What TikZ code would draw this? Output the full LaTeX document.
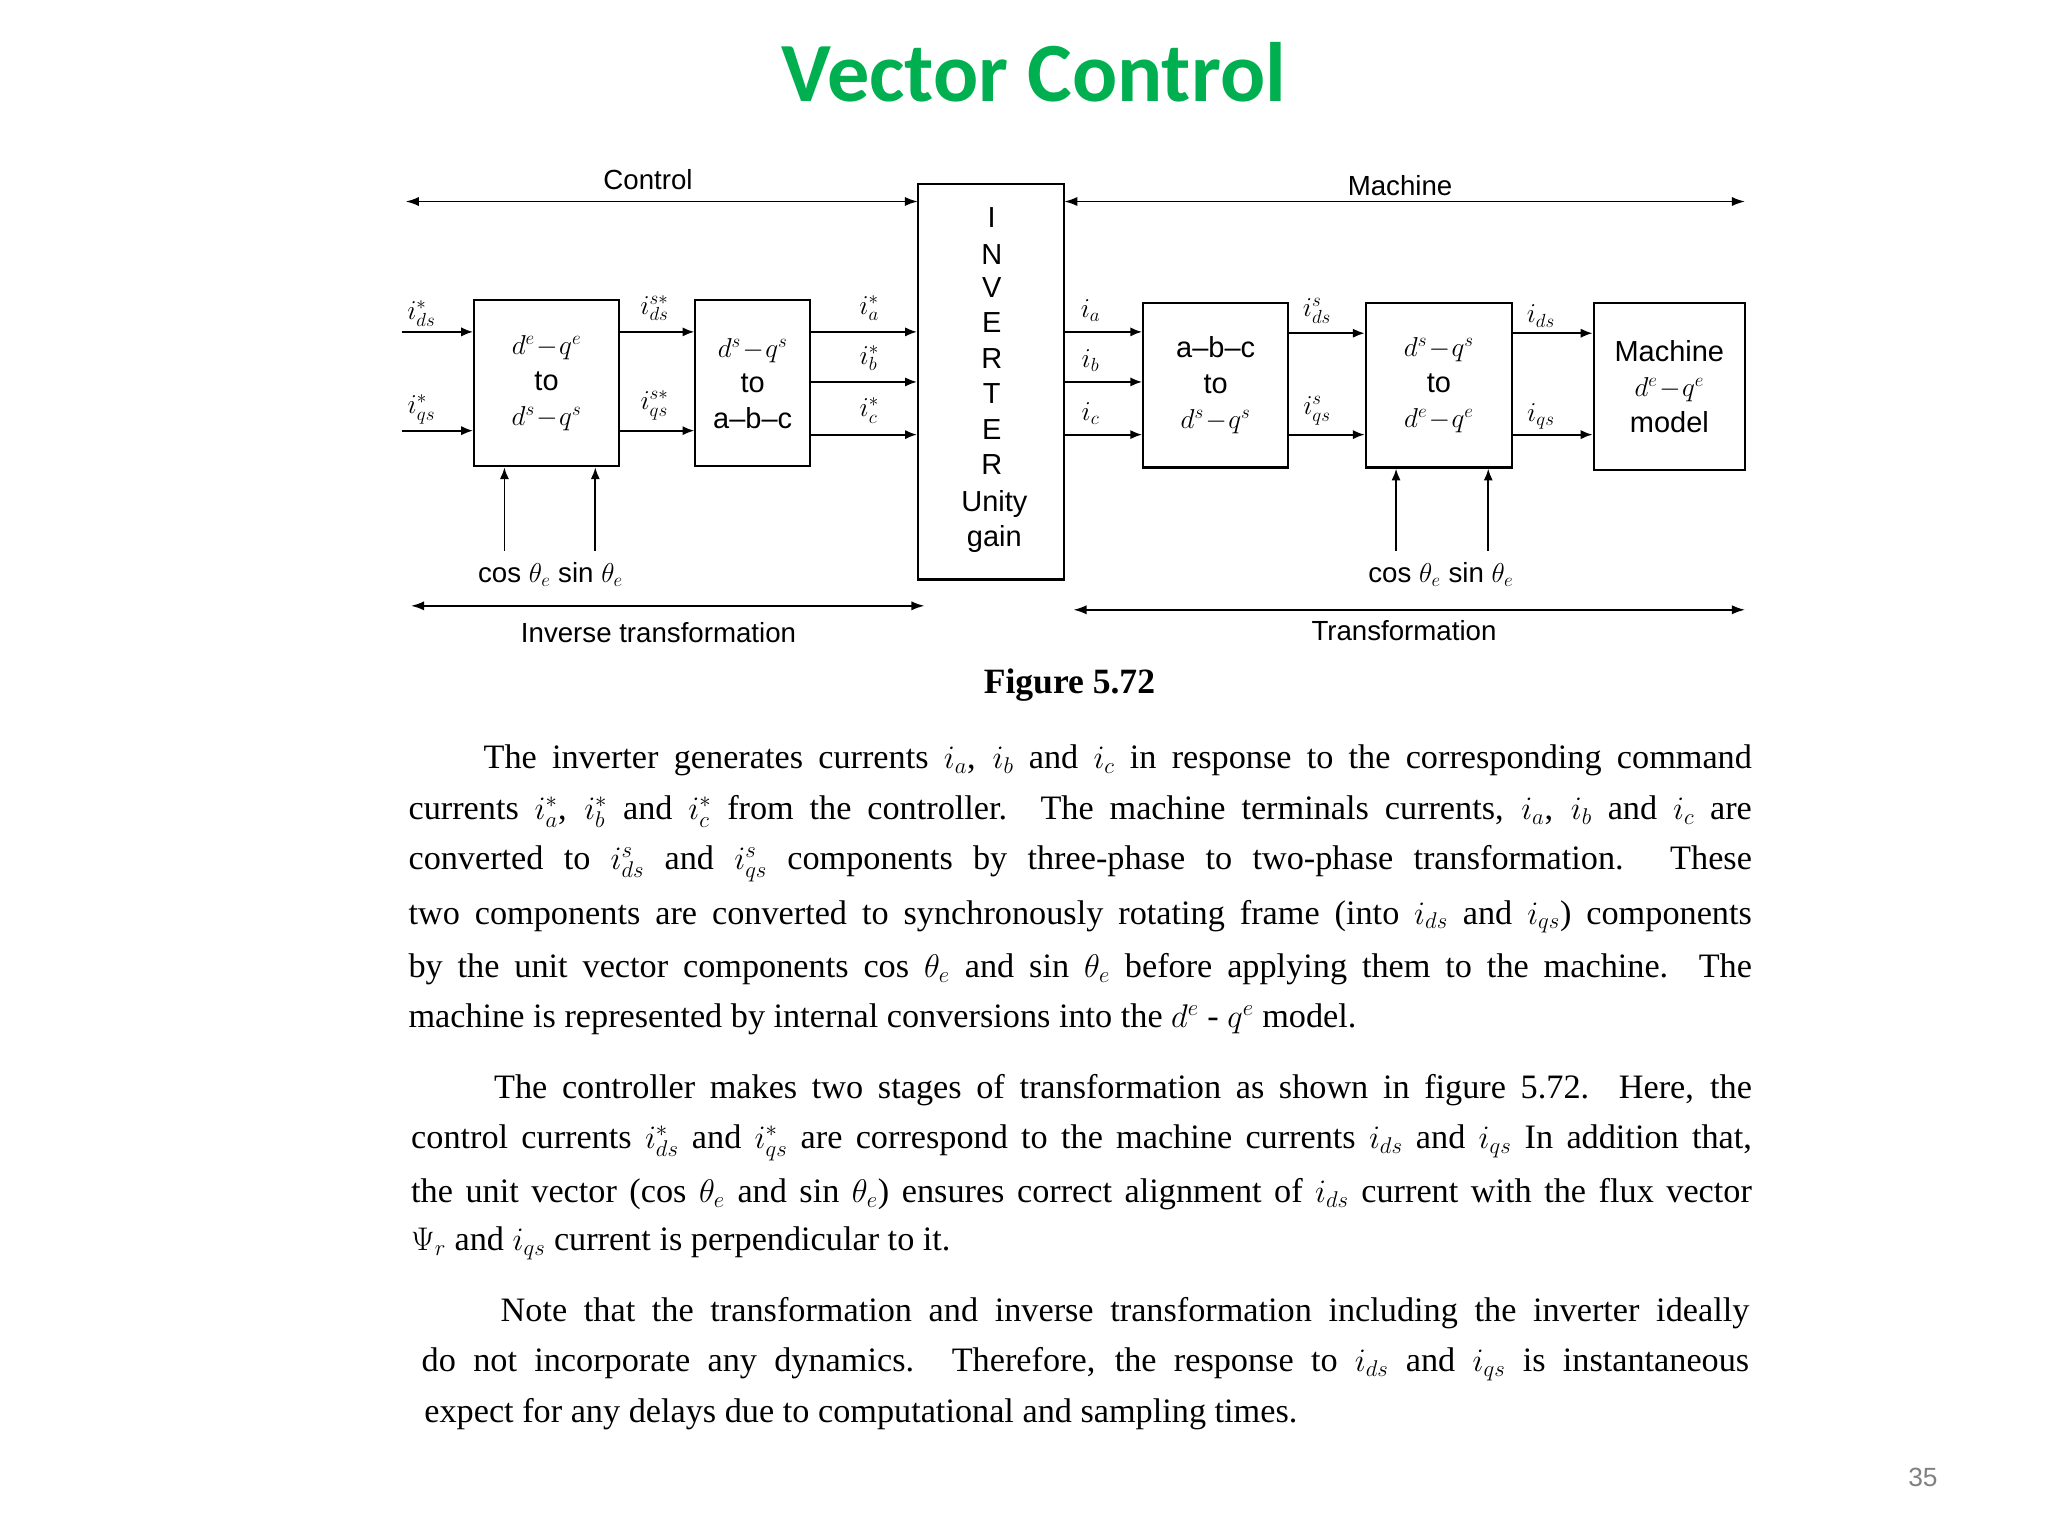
\documentclass[tikz,border=0pt]{standalone}
\usepackage{fontspec}
\setmainfont{Liberation Serif}
\setsansfont{Liberation Sans}
\newfontfamily\titlefont{Carlito}
\usetikzlibrary{arrows.meta}
\definecolor{titlegreen}{RGB}{0,176,80}
\newcommand{\bodyline}[1]{\makebox[1020pt][s]{#1}}
\tikzset{
  blk/.style={draw,line width=1.6pt,inner sep=0pt,font=\sffamily\fontsize{22}{27}\selectfont,align=center},
  sig/.style={-{Latex[length=9pt,width=7pt]},line width=1.4pt},
  span/.style={{Latex[length=10pt,width=7pt]}-{Latex[length=10pt,width=7pt]},line width=1.4pt},
  lab/.style={font=\sffamily\fontsize{21}{24}\selectfont},
  sl/.style={font=\fontsize{21}{24}\selectfont},
  body/.style={anchor=west,inner sep=0pt,font=\fontsize{26}{30}\selectfont}
}
\begin{document}
\begin{tikzpicture}[x=1pt,y=-1pt]
\useasboundingbox (0,0) rectangle (1555,1166.25);
\node[font=\titlefont\bfseries\fontsize{64}{70}\selectfont,text=titlegreen] (title) at (785,55) {Vector Control};

% top spans
\coordinate (c1) at (308,153); \coordinate (c2) at (697,153);
\draw[span] (c1) -- (c2);
\node[lab] (ctl) at (492,136) {Control};
\coordinate (m1) at (808,153); \coordinate (m2) at (1325,153);
\draw[span] (m1) -- (m2);
\node[lab] (mach) at (1063,141) {Machine};

% blocks
\node[blk,minimum width=110pt,minimum height=126pt] (b1) at (415,291) {$d^e\!-\!q^e$\\to\\$d^s\!-\!q^s$};
\node[blk,minimum width=87pt,minimum height=126pt] (b2) at (571.5,291) {$d^s\!-\!q^s$\\to\\a--b--c};
\node[blk,minimum width=111pt,minimum height=300pt] (inv) at (752.5,290) {};
\foreach \l/\yy in {I/165,N/193,V/218,E/245,R/272,T/299,E/326,R/353}
  \node[lab,font=\sffamily\fontsize{22}{24}\selectfont] at (753,\yy) {\l};
\node[lab,font=\sffamily\fontsize{22}{26}\selectfont,align=center] (ug) at (755,396) {Unity\\gain};
\node[blk,minimum width=110pt,minimum height=125pt] (b3) at (923,292.5) {a--b--c\\to\\$d^s\!-\!q^s$};
\node[blk,minimum width=111pt,minimum height=125pt] (b4) at (1092.5,292.5) {$d^s\!-\!q^s$\\to\\$d^e\!-\!q^e$};
\node[blk,minimum width=115pt,minimum height=127pt] (b5) at (1267.5,293.5) {Machine\\$d^e\!-\!q^e$\\model};

% inputs
\coordinate (in1) at (305,252); \coordinate (in2) at (305,327);
\draw[sig] (in1) -- (b1.west |- in1);
\draw[sig] (in2) -- (b1.west |- in2);
\node[sl] at (320,238) {$i^{*}_{ds}$};
\node[sl] at (320,311) {$i^{*}_{qs}$};
% b1 -> b2
\draw[sig] (b1.east |- 0,252) -- (b2.west |- 0,252);
\draw[sig] (b1.east |- 0,327) -- (b2.west |- 0,327);
\node[sl] at (497,234) {$i^{s*}_{ds}$};
\node[sl] at (497,308) {$i^{s*}_{qs}$};
% b2 -> inv
\foreach \yy/\t in {252/a,290/b,330/c}{
  \draw[sig] (b2.east |- 0,\yy) -- (inv.west |- 0,\yy);
  \draw[sig] (inv.east |- 0,\yy) -- (b3.west |- 0,\yy);
  \node[sl] at (660,\yy-18) {$i^{*}_{\t}$};
  \node[sl] at (828,\yy-16) {$i_{\t}$};
}
% b3 -> b4
\draw[sig] (b3.east |- 0,253) -- (b4.west |- 0,253);
\draw[sig] (b3.east |- 0,330) -- (b4.west |- 0,330);
\node[sl] at (1000,236) {$i^{s}_{ds}$};
\node[sl] at (1000,312) {$i^{s}_{qs}$};
% b4 -> b5
\draw[sig] (b4.east |- 0,253) -- (b5.west |- 0,253);
\draw[sig] (b4.east |- 0,330) -- (b5.west |- 0,330);
\node[sl] at (1170,240) {$i_{ds}$};
\node[sl] at (1170,316) {$i_{qs}$};

% cos/sin inputs
\foreach \xx in {383,452}{\coordinate (u\xx) at (\xx,418); \draw[sig] (u\xx) -- (b1.south -| u\xx);}
\foreach \xx in {1060,1130}{\coordinate (v\xx) at (\xx,418); \draw[sig] (v\xx) -- (b4.south -| v\xx);}
\node[lab] (cs1) at (418,436) {cos $\theta_e$ sin $\theta_e$};
\node[lab] (cs2) at (1094,436) {cos $\theta_e$ sin $\theta_e$};

% bottom spans
\coordinate (i1) at (312,460); \coordinate (i2) at (702,460);
\draw[span] (i1) -- (i2);
\node[lab] (it) at (500,480) {Inverse transformation};
\coordinate (t1) at (815,463); \coordinate (t2) at (1325,463);
\draw[span] (t1) -- (t2);
\node[lab] (tt) at (1066,479) {Transformation};

\node[font=\bfseries\fontsize{27}{30}\selectfont] (fig) at (812,520) {Figure 5.72};

% paragraphs
\node[body] at (367,577) {\makebox[963pt][s]{The inverter generates currents $i_a$, $i_b$ and $i_c$ in response to the corresponding command}};
\node[body] at (310,616) {\bodyline{currents $i_a^{*}$, $i_b^{*}$ and $i_c^{*}$ from the controller. The machine terminals currents, $i_a$, $i_b$ and $i_c$ are}};
\node[body] at (310,656) {\bodyline{converted to $i_{ds}^{s}$ and $i_{qs}^{s}$ components by three-phase to two-phase transformation. These}};
\node[body] at (310,696) {\bodyline{two components are converted to synchronously rotating frame (into $i_{ds}$ and $i_{qs}$) components}};
\node[body] at (310,736) {\bodyline{by the unit vector components cos $\theta_e$ and sin $\theta_e$ before applying them to the machine. The}};
\node[body] at (310,774) {machine is represented by internal conversions into the $d^e$ - $q^e$ model.};

\node[body] at (375,828) {\makebox[955pt][s]{The controller makes two stages of transformation as shown in figure 5.72. Here, the}};
\node[body] at (312,868) {\makebox[1018pt][s]{control currents $i_{ds}^{*}$ and $i_{qs}^{*}$ are correspond to the machine currents $i_{ds}$ and $i_{qs}$ In addition that,}};
\node[body] at (312,907) {\makebox[1018pt][s]{the unit vector (cos $\theta_e$ and sin $\theta_e$) ensures correct alignment of $i_{ds}$ current with the flux vector}};
\node[body] at (312,944) {$\Psi_r$ and $i_{qs}$ current is perpendicular to it.};

\node[body] at (380,997) {\makebox[948pt][s]{Note that the transformation and inverse transformation including the inverter ideally}};
\node[body] at (320,1036) {\makebox[1008pt][s]{do not incorporate any dynamics. Therefore, the response to $i_{ds}$ and $i_{qs}$ is instantaneous}};
\node[body] at (322,1074) {expect for any delays due to computational and sampling times.};

\node[font=\sffamily\fontsize{20}{24}\selectfont,text=gray] (pg) at (1460,1122) {35};
\end{tikzpicture}
\end{document}
